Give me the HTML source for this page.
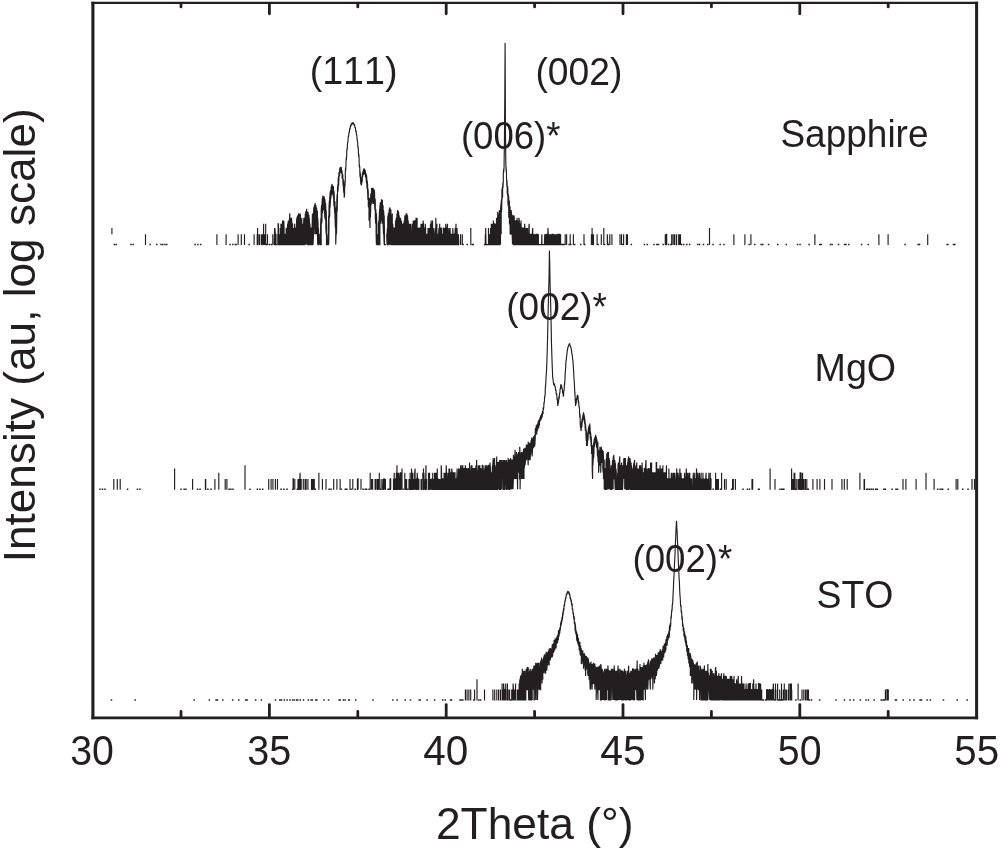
<!DOCTYPE html>
<html lang="en"><head><meta charset="utf-8"><title>XRD 2Theta scans</title>
<style>html,body{margin:0;padding:0;background:#fff}svg{display:block}text{font-family:"Liberation Sans",sans-serif;fill:#231f20;font-kerning:none}.c{fill:none;stroke:#231f20;stroke-width:1.15;stroke-linejoin:miter;stroke-miterlimit:2;stroke-linecap:butt}.d{fill:none;stroke:#231f20;stroke-width:1.5;stroke-linecap:butt}.f{fill:none;stroke:#231f20;stroke-linecap:butt}.t{fill:none;stroke:#231f20;stroke-width:2.8;stroke-linecap:round}</style></head><body>
<svg width="1000" height="850" viewBox="0 0 1000 850">
<rect width="1000" height="850" fill="#fff"/>
<g id="sapphire">
<path class="c" d="M111.9 234.2V228.1M145.5 245.1V234.2M216.9 245.1V234.2M226.1 245.1V234.2M238.1 245.1V234.2M241.3 245.1V234.2M244.5 245.1V234.2M254.1 245.1V234.2M257.2 234.2V244.6H257.6V228.1M258.7 244.6H259V234.2M259.7 245.1V234.2M261.1 244.6H261.5V234.2L261.8 244.6H262.2L262.5 234.2V244.6M263.6 245.1V223.8M264.7 245.1V234.2M265.4 244.6H265.7V223.8M267.5 245.1V234.2M272.8 234.2V244.6H273.2M273.9 244.6H274.2L274.6 228.1V244.6H274.9V228.1L275.3 234.2V244.6H275.6V234.2H276V244.6H277M277.8 234.2V244.6H278.1V223.8H278.5V244.6H278.8V234.2L279.2 244.6H279.5V234.2L279.9 244.6H280.2V228.1L280.6 234.2V244.6H280.9V223.8L281.3 234.2V244.6H281.6V228.1L282 223.8V244.6H282.3V223.8L282.7 220.5V244.6H283.1V223.8L283.4 234.2V244.6H283.8V220.5L284.1 228.1V244.6H284.5V234.2H284.8V244.6H285.2L285.5 234.2V244.6H285.9L286.2 228.1V244.6H286.6V234.2H286.9V244.6H287.3V228.1L287.7 223.8V244.6H288V223.8L288.4 220.5V244.6H288.7V223.8L289.1 220.5V244.6H289.4V220.5L289.8 213.4V244.6H290.1V220.5L290.5 217.8V244.6H290.8V223.8L291.2 220.5V244.6H291.5V217.8L291.9 223.8V244.6H292.3V223.8H292.6V244.6H293V228.1L293.3 234.2V244.6H293.7L294 228.1V244.6H294.4V234.2L294.7 223.8V244.6H295.1V228.1H295.4V244.6H295.8V234.2L296.1 228.1V244.6H296.5V223.8L296.8 217.8V244.6H297.2V217.8L297.6 215.4V244.6H297.9V220.5L298.3 215.4V244.6H298.6V213.4L299 215.4V244.6H299.3V215.4L299.7 220.5V244.6H300V213.4L300.4 215.4V244.6H300.7V220.5H301.1V244.6H301.4V228.1L301.8 217.8V244.6H302.2V234.2L302.5 223.8V244.6H302.9V234.2L303.2 223.8V244.6H303.6V223.8L303.9 217.8V244.6H304.3V217.8L304.6 220.5V244.6H305V223.8L305.3 213.4V244.6L305.7 234.2V211.7H306V234.2L306.4 244.6V213.4L306.7 208.7V234.2H307.1V213.4L307.5 211.7V244.6H307.8V211.7L308.2 213.4V244.6H308.5V215.4H308.9V244.6H309.2V217.8L309.6 223.8V244.6H309.9V223.8L310.3 234.2V244.6H310.6V228.1L311 234.2V244.6H311.3V228.1H311.7V244.6H312.1V228.1L312.4 213.4V244.6H312.8V215.4L313.1 217.8V244.6L313.5 234.2V213.4L313.8 207.4V228.1H314.2V208.7L314.5 205.1V220.5L314.9 234.2V205.1L315.2 203.1V223.8L315.6 220.5V206.2L315.9 205.1V234.2L316.3 228.1V211.7L316.6 207.4V228.1L317 234.2V210.1L317.4 211.7V234.2L317.7 244.6V217.8L318.1 223.8V244.6H318.4V228.1L318.8 244.6M319.5 244.6H319.8V234.2H320.2V244.6H320.5V228.1L320.9 217.8V244.6H321.2V210.1L321.6 205.1V223.8L322 220.5V204L322.3 198.3V213.4L322.7 211.7V196.4L323 195.8V207.4L323.4 210.1V198.3H323.7V210.1L324.1 208.7V196.4L324.4 198.3V208.7L324.8 217.8V199L325.1 201.3V217.8L325.5 220.5V203.1L325.8 207.4V228.1L326.2 234.2V210.1L326.5 220.5V244.6H326.9V234.2L327.3 244.6H328.3V228.1L328.7 215.4V244.6L329 228.1V207.4L329.4 200.5V217.8L329.7 215.4V198.3L330.1 192.2V207.4L330.4 201.3V190.9L330.8 190.5V199L331.1 195.8V187.6L331.5 186V194.7L331.9 192.7V184L332.2 184.8V194.1L332.6 192.2V186.3L332.9 186V194.1L333.3 196.4V186L333.6 190.1V197L334 206.2V191.3L334.3 195.8V205.1L334.7 213.4V201.3L335 202.1V217.8L335.4 228.1V210.1L335.7 207.4V244.6L336.1 234.2V211.7L336.5 206.2V234.2L336.8 215.4V199.7L337.2 194.1V211.7L337.5 196.4V187.9L337.9 184.3V191.8L338.2 187.9V178.8L338.6 176.4V185.7L338.9 179.3V172.9L339.3 172.3V176.1L339.6 175.6V170L340 167.6V171.8L340.3 173.2V168.4L340.7 166.9V170.8L341 172.1V168.2L341.4 168V171.3L341.8 173.9V170L342.1 171.4V178L342.5 177.9V173.8L342.8 175.2V180.9L343.2 186.3V178.8L343.5 182.3V189.7L343.9 193.1V185.1L344.2 186.9V197.6L344.6 194.7V186L344.9 180.9V187.2L345.3 179.3V172.5L345.6 167.6V171.2L346 165.9V161.5L346.4 157.1V160.1L346.7 155.2V152.4L347.1 148.1V150.2L347.4 146.8V144.9L347.8 141.2V142.8L348.1 139.8V138L348.5 135.5V137.2L348.8 134.9V133.7L349.2 131.8V132.9L349.5 130.8V129.8L349.9 128.1V129.7L350.2 128.3V126.8L350.6 125.5V126.9L350.9 125.9V124.8L351.3 124V124.8L351.7 124.4V123.5L352 122.9V124L352.4 123.6V122.8L352.7 122.7V123.6H353.1V122.9L353.4 123V124.1L353.8 124.3V123.4L354.1 124V125L354.5 125.9V124.9L354.8 125.7V126.9L355.2 128.2V127L355.5 128.5V129.5L355.9 132V130.3L356.3 131.6V133.2L356.6 135.4V134.3L357 136.7V138.1L357.3 141V139.5L357.7 142.8V144.3L358 148.1V146.4L358.4 149.8V152.7L358.7 157.1V153.6L359.1 158.1V162.2L359.4 167.5V164.5L359.8 167.9V172.4L360.1 177.5V171.9L360.5 175.5V180.5L360.8 184V177.3L361.2 179.7V185.4L361.6 184.3V178L361.9 176.7V182.5L362.3 180.9V174.4L362.6 172.5V176.8L363 175V171.7L363.3 170V173.8L363.7 173.9V169.1L364 168.4V173L364.4 172.6V168.6L364.7 169.6V173.5L365.1 174.2V170.2L365.4 171.6V175.9L365.8 177.5V173.2L366.2 174.3V179.1L366.5 183.5V175L366.9 179.7V186.3L367.2 189.3V180.5L367.6 184.8V191.3L367.9 199.7V188.2L368.3 191.8V206.2L368.6 207.4V198.3H369V220.5L369.3 215.4V206.2L369.7 202.1V220.5L370 228.1V199.7L370.4 197.6V217.8L370.7 210.1V194.1H371.1V205.1L371.5 200.5V188.6L371.8 187.9V202.1L372.2 199V190.1L372.5 187.9V197.6L372.9 204V187.9L373.2 188.6V198.3L373.6 199V189.3L373.9 189.7V204L374.3 199V190.1L374.6 192.7V205.1L375 210.1V198.3L375.3 201.3V217.8L375.7 223.8V208.7L376.1 213.4V234.2L376.4 244.6V213.4L376.8 223.8V244.6H377.1V234.2L377.5 244.6H377.8L378.2 234.2V244.6H378.5V223.8L378.9 220.5V244.6L379.2 234.2V217.8L379.6 208.7V244.6H379.9V207.4L380.3 203.1V223.8L380.7 217.8V202.1L381 204V220.5L381.4 217.8V199.7H381.7V217.8L382.1 223.8V200.5H382.4V213.4L382.8 220.5V205.1L383.1 206.2V223.8L383.5 234.2V210.1L383.8 213.4V234.2L384.2 244.6V215.4L384.5 234.2V244.6H386M386.7 234.2L387 244.6V234.2L387.4 228.1V244.6H387.7V217.8L388.1 215.4V244.6H388.4V213.4H388.8V244.6H389.1V210.1L389.5 208.7V244.6L389.8 228.1V207.4L390.2 210.1V234.2L390.6 244.6V210.1H390.9V244.6H391.3V215.4H391.6V244.6H392V223.8L392.3 213.4V244.6H392.7V223.8L393 228.1V244.6H393.4V228.1H393.7V244.6H394.1V234.2L394.4 244.6H394.8V228.1H395.1V244.6H395.5V220.5L395.9 223.8V244.6H396.2V217.8L396.6 228.1V244.6H396.9V213.4L397.3 217.8V244.6H397.6V210.1L398 211.7V244.6L398.3 234.2V211.7L398.7 213.4V244.6H399V215.4L399.4 217.8V244.6H399.7V217.8L400.1 220.5V244.6H400.5V217.8L400.8 228.1V244.6H401.2V223.8L401.5 220.5V244.6H401.9V228.1L402.2 223.8V244.6H402.6V228.1L402.9 234.2V244.6H403.3V223.8H403.6V244.6H404V223.8L404.3 220.5V244.6H404.7V217.8L405 215.4V244.6H405.4V217.8L405.8 215.4V244.6H406.1V213.4L406.5 215.4V244.6H406.8V213.4L407.2 220.5V244.6H407.5V215.4L407.9 223.8V244.6H408.2V220.5L408.6 228.1V244.6H408.9V228.1L409.3 223.8V244.6H409.6V223.8L410 234.2V244.6H410.4V223.8L410.7 234.2V244.6H411.1V234.2H411.4V244.6H411.8V228.1L412.1 223.8V244.6H412.5V223.8L412.8 228.1V244.6H413.2V220.5L413.5 223.8V244.6H413.9V220.5L414.2 228.1V244.6H414.6V220.5L414.9 223.8V244.6H415.3V220.5H415.7V244.6H416V217.8L416.4 228.1V244.6H416.7V228.1L417.1 217.8V244.6H417.4V228.1L417.8 234.2V244.6H418.1V228.1L418.5 234.2V244.6H418.8V228.1H419.2V244.6H419.5V228.1L419.9 234.2V244.6H420.3V228.1H420.6V244.6H421V223.8L421.3 228.1V244.6H421.7V228.1L422 223.8V244.6H422.4V228.1L422.7 223.8V244.6H423.1V220.5L423.4 223.8V244.6H423.8V228.1H424.1V244.6H424.5V228.1H424.9V244.6H425.2V223.8L425.6 228.1V244.6H425.9V234.2H426.3V244.6H426.6V234.2H427V244.6H427.3V234.2H427.7V244.6H428V228.1L428.4 234.2V244.6H428.7V228.1L429.1 234.2V244.6H429.4V234.2L429.8 228.1V244.6H430.2V234.2L430.5 223.8V244.6H430.9V228.1L431.2 220.5V244.6H431.6V223.8H431.9V244.6H432.3V234.2L432.6 220.5V244.6H433V228.1L433.3 244.6H433.7V228.1L434 234.2V244.6H434.4V234.2H434.8V244.6H435.1V234.2L435.5 228.1V244.6H435.8V217.8L436.2 234.2V244.6H436.5L436.9 223.8V244.6H437.2V234.2H437.6V244.6H437.9V234.2H438.3V244.6H438.6V234.2L439 228.1V244.6H439.3V234.2L439.7 223.8V244.6H440.1V234.2L440.4 228.1V244.6H440.8V228.1H441.1V244.6H441.5V234.2L441.8 228.1V244.6H442.2V234.2H442.5V244.6H442.9V234.2H443.2V244.6H443.6V228.1H443.9V244.6H444.3V234.2H444.7V244.6H445V228.1L445.4 234.2V244.6H445.7V223.8L446.1 234.2V244.6H446.4V228.1H446.8V244.6H447.1V228.1L447.5 223.8V244.6H447.8V228.1L448.2 234.2V244.6H448.5V234.2H448.9V244.6H449.2V228.1L449.6 234.2V244.6H450V228.1L450.3 234.2V244.6H450.7V234.2H451V244.6H451.4V234.2H451.7V244.6H452.1V234.2H452.4V244.6H452.8V228.1L453.1 234.2V244.6H453.5V234.2H453.8V244.6H454.2L454.6 234.2V244.6H454.9V234.2L455.3 228.1V244.6H455.6V234.2L456 223.8V244.6H456.3V228.1L456.7 234.2V244.6H457V228.1L457.4 244.6H457.7L458.1 234.2V244.6H458.4V234.2L458.8 244.6H459.1M460.6 245.1V234.2M462.3 245.1V234.2M470.8 228.1V244.6H471.2M485.3 234.2V244.6H485.7V228.1L486 244.6H488.5V228.1L488.9 244.6H489.2L489.6 234.2L489.9 244.6L490.3 234.2V244.6H490.6V228.1L491 234.2V244.6H491.3V223.8L491.7 234.2V244.6H492V223.8L492.4 228.1V244.6H492.7V228.1L493.1 223.8V244.6H493.4V220.5L493.8 228.1V244.6H494.2V223.8H494.5V244.6H494.9V228.1L495.2 223.8V244.6H495.6V223.8L495.9 234.2V244.6H496.3V228.1L496.6 217.8V244.6H497V220.5H497.3V234.2L497.7 244.6V211.7L498 215.4V244.6H498.4V217.8L498.8 215.4V234.2L499.1 244.6V215.4L499.5 210.1V244.6H499.8V217.8L500.2 211.7V234.2L500.5 244.6V210.1L500.9 204V223.8L501.2 234.2V202.1L501.6 199V211.7L501.9 199.7V190.1L502.3 187.6V198.3L502.6 196.4V187.2L503 182.1V187.9L503.3 180.5V174L503.7 168.7V172.7L504.1 166.5V163.1L504.4 144.1V147L504.8 95.1V94.6L505.1 43.1L505.5 136.9V135.9L505.8 160.5V162.9L506.2 171.3V167.9L506.5 174V177.9L506.9 186.6V180.1L507.2 186.6V192.7L507.6 195.2V186L507.9 190.9V202.1L508.3 206.2V194.7L508.7 197V217.8L509 211.7V200.5L509.4 201.3V223.8H509.7V206.2L510.1 207.4V234.2L510.4 228.1V211.7H510.8V234.2H511.1V210.1L511.5 213.4V234.2H511.8V215.4H512.2V234.2L512.5 244.6V217.8L512.9 215.4V234.2H513.3V217.8L513.6 215.4V244.6H514V215.4L514.3 217.8V244.6H514.7V220.5L515 223.8V244.6H515.4V220.5L515.7 228.1V244.6H516.1V220.5H516.4V244.6H516.8V228.1L517.1 217.8V244.6H517.5V228.1L517.8 220.5V244.6H518.2V228.1L518.6 223.8V244.6H518.9V217.8L519.3 220.5V244.6H519.6V223.8H520V244.6H520.3V228.1H520.7V244.6H521V220.5L521.4 234.2V244.6H521.7V228.1H522.1V244.6H522.4V228.1H522.8V244.6H523.2V228.1H523.5V244.6H523.9V234.2H524.2V244.6H524.6V223.8L524.9 228.1V244.6H525.3L525.6 234.2V244.6H526V228.1L526.3 234.2V244.6H526.7V228.1L527 234.2V244.6H527.4V228.1L527.7 234.2V244.6H528.1V234.2H528.5V244.6H528.8V228.1L529.2 223.8V244.6H529.5V234.2H529.9V244.6H530.2L530.6 234.2V244.6H530.9V234.2H531.3V244.6H531.6V234.2L532 244.6H532.3V234.2L532.7 228.1V244.6H533.1V234.2H533.4V244.6H533.8L534.1 234.2V244.6H534.5V234.2L534.8 244.6H535.2L535.5 234.2V244.6H535.9V234.2H536.2V244.6H536.6V234.2H536.9V244.6H537.3V234.2H537.6V244.6H538L538.4 234.2V244.6H541.5L541.9 234.2V244.6H544.4L544.7 234.2V244.6H545.1V234.2L545.4 244.6H545.8L546.1 234.2V244.6H546.5V234.2H546.8V244.6H547.9V228.1L548.3 234.2V244.6H548.6L549 234.2V244.6H549.3L549.7 234.2V244.6H550L550.4 234.2V244.6H550.7L551.1 234.2V244.6H551.4L551.8 234.2V244.6H552.1V234.2H552.5V244.6H552.9V234.2H553.2V244.6H554.3V234.2L554.6 244.6H555V234.2L555.3 244.6H555.7V234.2L556 244.6H556.4V234.2L556.7 244.6H557.1L557.5 234.2V244.6H557.8V234.2H558.2V244.6H559.2V234.2H559.6V244.6H559.9V234.2L560.3 244.6H560.6V234.2M565.2 245.1V234.2M566.6 245.1V234.2M570.2 245.1V234.2M573.4 234.2V244.6H573.7M584 245.1V234.2M591.4 245.1V234.2M592.1 245.1V228.1M593.2 234.2V244.6H593.5V234.2M597.1 234.2V244.6H597.4M601.3 245.1V234.2M603.8 245.1V228.1M607 244.6H607.3V234.2L607.7 244.6M609.8 245.1V234.2M611.9 245.1V234.2M620 245.1V234.2M621.5 245.1V234.2M623.6 245.1V234.2M626.4 245.1V234.2M627.5 245.1V234.2M665.3 245.1V234.2M666 234.2V244.6H666.4V234.2H666.7V244.6M671.7 234.2V244.6H672M673.1 245.1V234.2M674.5 245.1V234.2M676.3 234.2V244.6H676.6V234.2M678.7 245.1V234.2M679.8 245.1V234.2M680.5 245.1V234.2M709.5 245.1V228.1M733.9 245.1V234.2M744.9 234.2V244.6H745.2M750.9 245.1V234.2M814.9 245.1V234.2M878.9 245.1V234.2M888.1 245.1V234.2M927.7 245.1V234.2"/>
<path class="d" d="M113.6 244.6h1.5M115.4 244.6h1.5M130.3 244.6h1.5M132.4 244.6h1.5M149.4 244.6h1.5M156.1 244.6h1.5M160.3 244.6h1.5M162.1 244.6h1.5M164.2 244.6h1.5M166 244.6h1.5M194.3 244.6h1.5M197.1 244.6h1.5M199.9 244.6h1.5M229.3 244.6h1.5M232.1 244.6h1.5M234.6 244.6h1.5M235.3 244.6h1.5M248.4 244.6h1.5M266 244.6h1.5M268.5 244.6h1.5M270.5 244.6h1.5M462.3 244.6h1.5M466.5 244.6h1.5M471.5 244.6h1.5M472.5 244.6h1.5M483.9 244.6h1.5M560.9 244.6h1.5M562 244.6h1.5M563.4 244.6h1.5M568.4 244.6h1.5M570.1 244.6h1.5M573.9 244.6h1.5M580 244.6h1.5M583.9 244.6h1.5M597.4 244.6h1.5M603.7 244.6h1.5M607.8 244.6h1.5M622.1 244.6h1.5M630.6 244.6h1.5M643.7 244.6h1.5M646.5 244.6h1.5M653.2 244.6h1.5M656.1 244.6h1.5M657.1 244.6h1.5M657.8 244.6h1.5M662.4 244.6h1.5M667.9 244.6h1.5M670.2 244.6h1.5M680.8 244.6h1.5M682.9 244.6h1.5M686.1 244.6h1.5M688.9 244.6h1.5M696.9 244.6h1.5M698.8 244.6h1.5M702.7 244.6h1.5M707 244.6h1.5M712.3 244.6h1.5M719.4 244.6h1.5M723.2 244.6h1.5M748.4 244.6h1.5M754 244.6h1.5M760.4 244.6h1.5M762 244.6h1.5M767.8 244.6h1.5M777 244.6h1.5M785.5 244.6h1.5M796.8 244.6h1.5M799.3 244.6h1.5M808.3 244.6h1.5M819.1 244.6h1.5M820.5 244.6h1.5M829.7 244.6h1.5M831.4 244.6h1.5M837.8 244.6h1.5M843.8 244.6h1.5M845.2 244.6h1.5M848.1 244.6h1.5M860.8 244.6h1.5M867.5 244.6h1.5M904.3 244.6h1.5M917.4 244.6h1.5M918.8 244.6h1.5M946.4 244.6h1.5M947.1 244.6h1.5M952.7 244.6h1.5M954.1 244.6h1.5"/>
</g>
<g id="mgo">
<path class="c" d="M113.8 489.8V478.9M117.3 489.8V478.9M120.2 489.8V478.9M174.6 489.8V468.5M192.6 489.8V478.9M205.4 478.9V489.3H205.7V478.9M214.9 489.8V478.9M218.8 489.8V472.8M225.2 489.8V478.9M226.9 489.8V478.9M245 489.8V465.2M268.7 489.8V478.9M271.1 489.8V478.9M272.9 489.8V478.9M275.4 489.8V478.9M277.5 489.8V478.9M292 489.3H293.1V478.9H293.4V489.3H293.8M294.8 489.8V478.9M298 489.8V478.9M298.7 489.8V478.9M299.4 478.9V489.3H299.8V478.9L300.1 472.8V489.3H300.5V478.9M301.2 489.8V478.9M303.3 489.8V478.9M305.1 478.9V489.3H305.4V478.9M306.1 489.8V478.9M307.6 489.3H307.9V478.9M311.1 489.3H311.5V478.9M312.2 478.9V489.3H312.5V478.9M313.2 489.8V478.9M314.3 489.8V478.9M318.9 489.8V472.8M322.4 489.8V478.9M326 489.8V478.9M333.7 489.8V478.9M336.9 489.8V478.9M340.1 489.8V478.9M349.6 489.3H350V478.9M352.8 489.8V478.9M357.4 478.9V489.3H357.8V478.9H358.1V489.3M361 478.9V489.3H361.3M370.2 489.8V472.8M371.6 489.8V478.9M372.6 489.8V478.9M374.7 489.3H375.1V478.9M375.8 489.8V478.9M376.9 489.3H377.2V478.9M378.3 489.8V478.9M379.3 472.8V489.3H379.7M381.1 489.8V478.9M382.2 489.3H382.5L382.9 478.9V489.3H383.9V478.9H384.3V489.3M385 489.3H385.4V478.9M390 478.9V489.3H390.3V478.9H390.7V489.3H391M393.5 478.9V489.3H393.8L394.2 472.8V489.3H394.5L394.9 478.9V489.3H395.3V478.9H395.6V489.3M396.3 472.8V489.3H396.7V478.9L397 465.2V489.3M397.7 478.9V489.3H398.1V472.8M398.8 489.3H399.1V472.8L399.5 478.9V489.3H399.9V478.9H400.2V489.3H400.6V472.8H400.9V489.3M402 489.8V468.5M404.4 489.3H404.8V472.8M405.5 489.8V478.9M406.2 478.9V489.3H406.6V478.9M409 489.8V478.9M409.8 478.9V489.3H410.1V472.8M411.2 478.9V489.3H411.5V468.5L411.9 478.9V489.3H412.2V472.8L412.6 478.9V489.3H412.9V472.8M413.6 489.8V478.9M414.4 489.3H414.7V472.8L415.1 468.5V489.3M416.1 478.9V489.3H416.5V478.9H416.8V489.3H417.2V472.8L417.5 478.9V489.3H417.9V478.9H418.2V489.3M418.9 489.8V478.9M421.1 478.9V489.3H421.4V478.9M422.8 489.8V472.8M423.5 468.5V489.3H423.9V472.8L424.3 489.3M425.3 478.9V489.3H425.7V478.9L426 465.2V489.3M426.7 489.8V478.9M428.5 472.8V489.3H428.8L429.2 472.8V489.3H429.6V472.8M430.3 489.8V478.9M431 489.8V478.9M431.7 489.3H432V478.9H432.4V489.3H432.7V472.8M433.4 478.9V489.3H433.8V478.9M434.5 489.8V472.8M435.2 478.9V489.3H435.6V472.8M436.6 472.8V489.3H437L437.3 468.5V489.3H437.7V478.9H438V489.3H438.4L438.7 478.9V489.3H439.1V478.9L439.5 489.3H439.8V478.9L440.2 489.3H440.5L440.9 478.9V489.3H441.2V465.2L441.6 472.8V489.3H441.9V478.9H442.3V489.3H442.6V478.9H443V489.3H443.3V478.9L443.7 489.3H444.1V472.8L444.4 489.3H444.8L445.1 472.8V489.3H445.5V478.9H445.8V489.3H446.2V465.2L446.5 472.8V489.3H446.9V472.8L447.2 478.9V489.3H447.6V478.9L447.9 489.3H448.3V472.8L448.6 478.9V489.3H449V468.5L449.4 472.8V489.3H449.7V468.5L450.1 478.9V489.3H450.4V478.9L450.8 472.8V489.3H451.1V472.8H451.5V489.3H451.8V468.5L452.2 472.8V489.3H452.5V472.8L452.9 478.9V489.3H453.2V472.8H453.6V478.9L454 489.3V478.9H454.3V489.3H454.7V472.8H455V489.3H455.4V478.9H455.7V489.3H456.1V478.9H456.4V489.3H456.8V478.9L457.1 468.5V478.9L457.5 489.3V478.9H457.8V489.3H458.2V478.9L458.6 468.5V489.3H458.9V468.5L459.3 478.9V489.3H459.6V468.5L460 472.8V489.3H460.3V472.8L460.7 465.2V489.3H461V472.8L461.4 468.5V489.3H461.7V472.8L462.1 465.2V489.3H462.4V472.8L462.8 465.2V489.3H463.1V478.9H463.5V489.3H463.9V468.5H464.2V489.3H464.6V472.8H464.9V489.3H465.3V465.2L465.6 468.5V489.3H466V468.5H466.3V489.3H466.7V472.8L467 468.5V489.3H467.4V472.8L467.7 468.5V489.3H468.1V468.5H468.5V489.3H468.8V468.5H469.2V489.3H469.5V462.5L469.9 472.8V489.3H470.2V472.8H470.6V489.3H470.9V472.8L471.3 465.2V489.3H471.6V472.8L472 465.2V489.3H472.3V468.5H472.7V489.3H473V472.8H473.4V489.3H473.8V468.5H474.1V489.3H474.5V472.8H474.8V489.3H475.2V468.5H475.5V489.3H475.9V465.2L476.2 472.8V489.3H476.6V460.1L476.9 472.8V489.3H477.3V472.8H477.6V489.3H478V472.8L478.4 465.2V489.3H478.7V468.5L479.1 465.2V489.3H479.4V468.5L479.8 465.2V489.3H480.1V468.5H480.5V489.3H480.8V472.8H481.2V489.3H481.5V468.5L481.9 472.8V489.3H482.2V465.2H482.6V489.3H482.9V465.2L483.3 468.5V489.3H483.7V478.9L484 472.8V489.3H484.4V472.8L484.7 468.5V489.3H485.1V465.2L485.4 472.8V489.3H485.8V468.5L486.1 465.2V489.3H486.5V468.5H486.8V489.3H487.2V465.2L487.5 468.5V489.3H487.9V478.9L488.3 472.8V489.3H488.6V465.2H489V489.3H489.3V468.5L489.7 465.2V489.3H490V462.5L490.4 468.5V489.3H490.7V478.9L491.1 472.8V489.3H491.4V472.8H491.8V489.3H492.1V472.8L492.5 465.2V489.3H492.8V465.2L493.2 458.1V489.3H493.6V472.8L493.9 460.1V489.3H494.3V468.5L494.6 458.1V478.9L495 489.3V472.8L495.3 468.5V489.3H495.7V468.5L496 465.2V489.3H496.4V468.5L496.7 456.4V489.3H497.1V462.5H497.4V489.3H497.8V462.5H498.2V489.3L498.5 478.9V465.2H498.9V489.3L499.2 478.9V462.5L499.6 460.1V489.3H499.9V468.5L500.3 460.1V489.3H500.6V472.8L501 465.2V489.3L501.3 478.9V460.1L501.7 462.5V489.3L502 472.8V465.2L502.4 462.5V478.9L502.8 472.8V460.1L503.1 465.2V489.3H503.5V468.5L503.8 460.1V472.8L504.2 489.3V465.2L504.5 468.5V489.3H504.9V460.1L505.2 462.5V489.3L505.6 478.9V468.5H505.9V472.8L506.3 478.9V460.1L506.6 462.5V489.3H507V465.2L507.3 462.5V472.8L507.7 489.3V465.2L508.1 458.1V478.9H508.4V460.1H508.8V489.3H509.1V460.1H509.5V489.3H509.8V460.1L510.2 462.5V489.3L510.5 478.9V458.1L510.9 462.5V478.9L511.2 489.3V460.1L511.6 462.5V478.9L511.9 489.3V460.1H512.3V478.9H512.7V465.2L513 462.5V489.3L513.4 478.9V454.8L513.7 460.1V478.9L514.1 472.8V456.4L514.4 462.5V472.8L514.8 478.9V456.4L515.1 449.8V468.5L515.5 478.9V458.1H515.8V472.8H516.2V458.1L516.5 452.1V478.9L516.9 465.2V456.4H517.2V472.8L517.6 489.3V456.4L518 453.4V468.5L518.3 472.8V456.4L518.7 452.1V465.2L519 472.8V452.1L519.4 460.1V478.9H519.7V446.8L520.1 453.4V489.3L520.4 468.5V453.4L520.8 460.1V465.2H521.1V458.1L521.5 452.1V478.9L521.8 460.1V453.4L522.2 454.8V468.5L522.6 478.9V453.4L522.9 452.1V462.5L523.3 478.9V452.1L523.6 448.7V468.5L524 478.9V450.9L524.3 452.1V468.5L524.7 462.5V447.8L525 449.8V465.2L525.4 462.5V447.8L525.7 448.7V458.1L526.1 460.1V452.1L526.4 444.4V460.1L526.8 458.1V446.8L527.1 448.7V456.4L527.5 454.8V444.4L527.9 448.7V460.1L528.2 465.2V441.7L528.6 444.4V454.8L528.9 456.4V443.7L529.3 447.8V460.1L529.6 458.1V443L530 446V460.1L530.3 458.1V443.7L530.7 443V454.8L531 450.9V441.1L531.4 439.9V452.1L531.7 450.9V437.4L532.1 441.1V456.4L532.5 449.8V439.9L532.8 438.8V448.7L533.2 444.4V438.3L533.5 437.4V447.8L533.9 445.2V436L534.2 436.5V442.3L534.6 446.8V434.8L534.9 435.2V445.2L535.3 436V429.8L535.6 428.2V432.9L536 434V428.7L536.3 425.4V434.4L536.7 434V428.7L537 424.4V431.6L537.4 430.1V425.4L537.8 423.5V429.5L538.1 427.7V421.9L538.5 421.4V428L538.8 427.5V419.7L539.2 422.4V424.8L539.5 425.6V420.5L539.9 418.3V421.4L540.2 420.2V417.3L540.6 416.5V420.5L540.9 419.3V414.9L541.3 415.9V419.1L541.6 417.9V414L542 413.8V417.3L542.4 414.9V411.7L542.7 411.2V413.6L543.1 413.9V408.6L543.4 407.3V409.8L543.8 406.9V405.6L544.1 402V403.7L544.5 400.5V397.6L544.8 396V397.5L545.2 393.4V390.4L545.5 385.4V387.1L545.9 381.5V380.6L546.2 374.7V375.7L546.6 369.6V369L547 358.7V359L547.3 348.3V348.1L547.7 333.2V333.4L548 316.9V316.8L548.4 301.2V301.3L548.7 290.1V290L549.1 274.6H549.1L549.4 250.5L549.8 266.2H549.8L550.1 285.4V285.3L550.5 296.5V296.6L550.8 310.2V310.1L551.2 327.3V327.5L551.5 344.8V344.5L551.9 356.4V356.9L552.3 367.9V367.2L552.6 375.5V376.5L553 379.6V378.7L553.3 381.2V382.2L553.7 384.6V383.4L554 383.8V384.9L554.4 385.8V384.1L554.7 384.8V385.5L555.1 387.1V386L555.4 387.9V388.8L555.8 391V389.7L556.1 390.9V392.9L556.5 394.9V393L556.9 395.8V398.1L557.2 400.2V398.4L557.6 401.2V404L557.9 405.9V403.2L558.3 401.3V403.6L558.6 401.3V400L559 396.4V399.3L559.3 397.1V395.2L559.7 392.6V393.8L560 391.8V390.1L560.4 387.5V389.3L560.7 386.6V385.3L561.1 384.2V385.7L561.4 386.7V385.3L561.8 386.6V388.5L562.2 389.1V388.3L562.5 390V391.7L562.9 393.7V392.6L563.2 393.9V396.6L563.6 395.6V393.6L563.9 390.4V391.3L564.3 388.2V386.7L564.6 382.9V384.6L565 378.7V377.1L565.3 371.2V372.8L565.7 366.8V366L566 360.5V361.3L566.4 358.3V357.5L566.8 355.1V355.4L567.1 352.5V352.2L567.5 349.3V349.7L567.8 348.1V347.5L568.2 346.7V347L568.5 346.2V345.6L568.9 345V345.3L569.2 344.3V344L569.6 343.8V344.2L569.9 345.2V345L570.3 345.8V346.2L570.6 347V346.6L571 347.5V347.9L571.3 349.5V349L571.7 351.8V352.1L572.1 354.9V354.3L572.4 356.9V357.3L572.8 360V359.2L573.1 362.9V363.4L573.5 369.5V368.6L573.8 374.5V375.5L574.2 380.9V380.2L574.5 386V387.4L574.9 394.1V391.8L575.2 398.3V399.4L575.6 406V403.8L575.9 401.4V404.5L576.3 402.4V399.7L576.7 398.4V400.1L577 398.2V397L577.4 394.8V396.6L577.7 397.2V394.8L578.1 397.3V399L578.4 403.2V400L578.8 403.1V404.8L579.1 407.5V405.5L579.5 409V411.7L579.8 417.8V413.2L580.2 416.6V423.1L580.5 427.7V423.6L580.9 425.6V430.7L581.2 430.4V423.1L581.6 422V428L582 424.4V419.4L582.3 418.7V422.4L582.7 420.2V417.7L583 414.6V419.6L583.4 416.3V412.3L583.7 413.3V416.3L584.1 419.9V414.5L584.4 416.8V421.1L584.8 424.2V418.2L585.1 422.7V427.2L585.5 431V423.6L585.8 428V429.8L586.2 441.1V429.8L586.6 436V446L586.9 444.4V437.8L587.3 438.8V446L587.6 440.5V434.4L588 431.6V440.5L588.3 432.9V429L588.7 427V433.3L589 433.7V426.3L589.4 425.2V429.3L589.7 433.3V423.6L590.1 428V434.4L590.4 439.4V431.9L590.8 434V439.9L591.2 446.8V436.5L591.5 441.7V453.4H591.9V445.2L592.2 446.8V468.5L592.6 478.9V447.8L592.9 452.1V465.2L593.3 458.1V446L593.6 443V458.1L594 452.1V441.7L594.3 438.8V446.8L594.7 444.4V437.8H595V444.4L595.4 441.7V436L595.7 434.8V441.1L596.1 440.5V436.5L596.5 438.3V447.8L596.8 444.4V439.4L597.2 441.7V447.8L597.5 456.4V443.7L597.9 442.3V456.4L598.2 462.5V449.8L598.6 452.1V472.8L598.9 468.5V456.4L599.3 452.1V465.2H599.6V452.1L600 446.8V458.1L600.3 462.5V454.8L600.7 448.7V472.8L601.1 460.1V449.8L601.4 446.8V460.1H601.8V452.1H602.1V462.5H602.5V449.8L602.8 456.4V468.5L603.2 472.8V450.9L603.5 458.1V478.9L603.9 472.8V460.1H604.2V489.3L604.6 478.9V468.5L604.9 478.9V489.3H605.3V468.5H605.6V489.3L606 478.9V462.5L606.4 458.1V489.3H606.7V453.4L607.1 454.8V468.5H607.4V453.4L607.8 452.1V489.3L608.1 472.8V454.8L608.5 452.1V472.8L608.8 489.3V460.1L609.2 458.1V468.5L609.5 489.3V460.1L609.9 468.5V489.3L610.2 478.9V468.5L610.6 472.8V489.3H611V472.8L611.3 465.2V489.3H611.7V468.5H612V478.9L612.4 489.3V462.5L612.7 460.1V478.9L613.1 489.3V460.1L613.4 456.4V478.9H613.8V454.8L614.1 462.5V472.8L614.5 478.9V462.5L614.8 460.1V478.9L615.2 489.3V462.5L615.5 465.2V489.3H615.9V468.5L616.3 472.8V489.3H616.6V478.9H617V489.3H617.3V478.9L617.7 472.8V478.9L618 489.3V465.2L618.4 462.5V489.3H618.7V468.5L619.1 462.5V489.3L619.4 472.8V460.1L619.8 456.4V489.3H620.1V465.2H620.5V489.3H620.9V465.2L621.2 472.8V489.3H621.6V462.5L621.9 468.5V489.3H622.3V468.5H622.6V489.3L623 478.9V465.2L623.3 468.5V472.8L623.7 478.9V460.1L624 458.1V478.9L624.4 472.8V462.5L624.7 458.1V489.3L625.1 478.9V465.2L625.4 458.1V489.3L625.8 478.9V468.5L626.2 465.2V489.3H626.5V468.5L626.9 472.8V489.3H627.2V468.5L627.6 462.5V489.3L627.9 478.9V462.5L628.3 458.1V489.3H628.6V456.4L629 462.5V489.3L629.3 478.9V465.2L629.7 472.8V489.3L630 478.9V458.1L630.4 462.5V489.3H630.8V468.5L631.1 462.5V489.3H631.5V465.2L631.8 468.5V489.3L632.2 478.9V468.5L632.5 472.8V489.3H632.9V472.8L633.2 468.5V489.3H633.6V465.2L633.9 462.5V489.3H634.3V465.2L634.6 460.1V489.3H635V468.5H635.4V489.3H635.7V468.5L636.1 465.2V489.3H636.4V468.5L636.8 462.5V489.3H637.1V472.8L637.5 468.5V489.3H637.8V468.5L638.2 472.8V489.3H638.5V472.8L638.9 468.5V489.3H639.2V472.8L639.6 465.2V489.3H639.9V468.5L640.3 465.2V489.3H640.7V465.2L641 472.8V489.3H641.4V468.5L641.7 472.8V489.3H642.1V462.5L642.4 472.8V489.3H642.8V472.8H643.1V489.3H643.5V472.8H643.8V489.3H644.2V468.5H644.5V489.3H644.9V472.8L645.3 468.5V489.3H645.6V465.2L646 460.1V489.3H646.3V472.8L646.7 468.5V489.3H647V468.5L647.4 472.8V489.3H647.7V472.8H648.1V489.3L648.4 478.9V468.5H648.8V489.3H649.1V472.8L649.5 468.5V489.3H649.8V468.5L650.2 472.8V489.3H650.6V462.5L650.9 478.9V489.3H651.3V472.8L651.6 462.5V478.9L652 489.3V472.8H652.3V489.3H652.7V472.8H653V489.3H653.4V472.8H653.7V489.3H654.1V472.8H654.4V489.3H654.8V478.9H655.2V489.3L655.5 478.9V472.8H655.9V489.3H656.2V462.5H656.6V489.3L656.9 472.8L657.3 468.5V489.3H657.6V472.8L658 468.5V489.3H658.3V472.8L658.7 468.5V489.3H659V472.8H659.4V489.3H659.7V478.9L660.1 465.2V489.3H660.5V478.9L660.8 468.5V489.3H661.2V472.8H661.5V489.3H661.9V468.5L662.2 478.9V489.3H662.6L662.9 465.2V489.3H663.3V478.9H663.6V489.3H664V472.8H664.3V489.3H664.7V472.8H665.1V489.3H665.4V472.8H665.8V489.3H666.1V478.9L666.5 465.2V489.3H667.5V478.9H667.9V489.3H668.2V478.9L668.6 489.3H668.9V468.5L669.3 489.3H669.6L670 478.9V489.3H670.4V478.9H670.7V489.3H671.1V478.9L671.4 472.8V489.3H671.8V472.8L672.1 478.9V489.3H672.5V478.9L672.8 489.3H673.2V472.8L673.5 478.9V489.3H673.9V472.8L674.2 478.9V489.3H674.6V472.8L675 478.9V489.3H675.3V478.9L675.7 489.3H676L676.4 472.8V489.3H676.7V468.5L677.1 478.9V489.3H677.4V472.8L677.8 478.9V489.3H678.1V472.8L678.5 478.9V489.3H678.8V478.9H679.2V489.3H679.6V478.9L679.9 468.5V489.3H680.3V478.9L680.6 472.8V489.3L681 478.9V472.8L681.3 478.9V489.3H681.7V478.9L682 489.3H682.4V478.9H682.7V489.3H683.1V478.9H683.4V489.3H683.8L684.1 478.9V489.3H684.5V472.8L684.9 478.9V489.3H685.2V478.9L685.6 489.3L685.9 478.9L686.3 468.5V489.3H686.6L687 472.8V489.3H687.3V478.9L687.7 472.8V489.3H688V478.9L688.4 489.3H688.7V478.9L689.1 472.8V489.3H689.5L689.8 472.8V489.3H690.2V478.9L690.5 489.3H690.9V478.9H691.2V489.3H691.6V478.9L691.9 489.3H693V478.9L693.3 472.8V489.3H693.7V478.9H694V489.3H694.4V478.9L694.8 472.8V489.3H695.1V478.9H695.5V489.3H696.5V468.5L696.9 478.9V489.3H697.2L697.6 478.9V489.3H697.9V472.8L698.3 478.9V489.3H698.6V478.9H699V489.3H699.4V472.8L699.7 478.9V489.3H700.1V478.9H700.4V489.3H700.8L701.1 472.8V489.3H701.5V478.9L701.8 489.3H702.2L702.5 478.9V489.3H702.9V472.8L703.2 489.3H703.6V478.9H703.9V489.3H704.3V478.9L704.7 489.3H705L705.4 478.9V489.3H705.7V478.9L706.1 472.8V489.3H706.4V478.9H706.8V489.3H707.1V478.9L707.5 489.3H707.8L708.2 478.9V489.3H708.5L708.9 472.8V489.3H710L710.3 472.8V489.3H710.7V478.9H711V489.3M715.6 472.8V489.3H716V478.9M717 489.8V478.9M718.1 478.9V489.3H718.4V478.9M721.6 489.8V472.8M724.5 489.8V478.9M726.2 489.8V478.9M732.6 489.8V478.9M733.3 489.8V478.9M735.4 478.9V489.3H735.8M752 489.8V478.9M752.7 489.8V478.9M770.1 489.8V468.5M775 489.8V478.9M791.6 468.5V489.3H792V478.9M793.1 489.8V478.9M793.8 478.9V489.3H794.1V472.8M794.8 489.8V472.8M796.2 478.9V489.3H796.9M798 489.8V478.9M798.7 489.8V478.9M799.8 478.9V489.3H800.1V472.8H800.5V489.3H800.8V478.9M801.5 478.9V489.3H801.9V472.8M802.6 489.8V472.8M803.3 489.3H803.7V478.9M805.1 478.9V489.3H805.4V478.9M806.8 489.8V478.9M812.9 489.8V478.9M817.1 489.8V478.9M819.9 489.8V478.9M824.5 489.8V478.9M832 489.8V478.9M841.9 489.8V478.9M844.3 489.8V478.9M847.2 489.8V478.9M859.9 489.8V472.8M864.1 478.9V489.3H864.5V478.9M903 489.8V478.9M905.9 489.8V478.9M916.1 489.8V478.9M926 489.8V472.8M934.1 489.8V478.9M956.1 489.8V478.9M957.8 489.8V478.9M972 489.8V478.9M974.5 489.8V478.9"/>
<path class="d" d="M99.2 489.3h1.5M101.7 489.3h1.5M104.2 489.3h1.5M126.8 489.3h1.5M136.7 489.3h1.5M139.2 489.3h1.5M180.2 489.3h1.5M183.4 489.3h1.5M185.2 489.3h1.5M196.8 489.3h1.5M199.3 489.3h1.5M207.1 489.3h1.5M210.3 489.3h1.5M228.3 489.3h1.5M230.1 489.3h1.5M232.2 489.3h1.5M249.2 489.3h1.5M256.6 489.3h1.5M259.1 489.3h1.5M261.9 489.3h1.5M280.3 489.3h1.5M283.1 489.3h1.5M286.3 489.3h1.5M296.6 489.3h1.5M314.6 489.3h1.5M328.4 489.3h1.5M330.2 489.3h1.5M340.4 489.3h1.5M344.6 489.3h1.5M346.1 489.3h1.5M350.3 489.3h1.5M354.5 489.3h1.5M362.3 489.3h1.5M364.5 489.3h1.5M365.9 489.3h1.5M368.3 489.3h1.5M379.7 489.3h1.5M387.3 489.3h1.5M388.5 489.3h1.5M402.3 489.3h1.5M407.1 489.3h1.5M712.4 489.3h1.5M719.8 489.3h1.5M730.8 489.3h1.5M742.3 489.3h1.5M746.7 489.3h1.5M748.8 489.3h1.5M757.7 489.3h1.5M758.4 489.3h1.5M779.2 489.3h1.5M781 489.3h1.5M781.7 489.3h1.5M782.4 489.3h1.5M783.1 489.3h1.5M794.8 489.3h1.5M806.8 489.3h1.5M807.5 489.3h1.5M865.9 489.3h1.5M867.3 489.3h1.5M869 489.3h1.5M870.8 489.3h1.5M872.6 489.3h1.5M875 489.3h1.5M875.8 489.3h1.5M876.5 489.3h1.5M883.2 489.3h1.5M884.6 489.3h1.5M891.3 489.3h1.5M895.2 489.3h1.5M896.8 489.3h1.5M936.9 489.3h1.5M939.4 489.3h1.5M941.2 489.3h1.5M941.9 489.3h1.5M947.5 489.3h1.5M962 489.3h1.5M967.3 489.3h1.5"/>
</g>
<g id="sto">
<path class="c" d="M465.4 700.5V689.6M467.1 700.5V689.6M468.9 700.5V689.6M470.7 700.5V689.6M474.6 700.5V689.6M477 700.5V679.2M484.5 700.5V689.6M492.9 700.5V689.6M494.7 700.5V689.6M496.8 700.5V689.6M498.6 700.5V689.6M500.4 700.5V689.6M502.1 683.5V700H502.5V689.6M503.2 700H503.6V683.5L503.9 689.6V700H504.3V689.6H504.6V700M505.7 700.5V683.5M507.1 689.6V700H507.4V683.5M508.2 700.5V689.6M509.2 700H509.6V689.6M511.7 689.6V700H512V689.6M512.8 689.6V700H513.1V683.5L513.5 689.6V700M514.5 689.6V700H514.9V689.6M515.6 700.5V683.5M517.3 700.5V689.6M518.1 700.5V689.6M519.1 683.5V700H519.5V689.6L519.8 679.2V700H520.2V683.5L520.5 675.9V700H520.9V675.9H521.2V700H521.6V683.5L521.9 673.2V700H522.3V668.8L522.7 675.9V700H523V679.2L523.4 675.9V700L523.7 689.6V670.8L524.1 673.2V700H524.4V673.2L524.8 670.8V689.6H525.1V675.9L525.5 679.2V700H525.8V679.2L526.2 668.8V689.6H526.5V670.8L526.9 673.2V689.6H527.2V667.1L527.6 673.2V689.6H528V667.1L528.3 668.8V683.5L528.7 700V673.2L529 679.2V700H529.4V673.2L529.7 670.8V700H530.1V668.8L530.4 670.8V689.6L530.8 700V673.2L531.1 675.9V700H531.5V670.8L531.8 673.2V689.6L532.2 700V668.8L532.6 670.8V689.6L532.9 683.5V670.8L533.3 673.2V689.6L533.6 683.5V668.8L534 665.5V700H534.3V665.5L534.7 668.8V689.6L535 679.2V667.1L535.4 665.5V683.5L535.7 700V662.8L536.1 668.8V683.5H536.4V670.8L536.8 664.1V683.5L537.1 700V662.8L537.5 665.5V700L537.9 683.5V662.8L538.2 665.5V689.6L538.6 683.5V668.8L538.9 662.8V689.6L539.3 675.9V667.1L539.6 670.8V683.5L540 689.6V670.8L540.3 662.8V689.6H540.7V660.5L541 662.8V679.2H541.4V662.8L541.7 657.5V675.9L542.1 683.5V659.4L542.5 662.8V679.2H542.8V664.1L543.2 661.6V673.2L543.5 668.8V659.4L543.9 656.7V673.2L544.2 670.8V655.9L544.6 654.4V667.1L544.9 668.8V658.5L545.3 657.5V673.2H545.6V658.5L546 653V664.1L546.3 670.8V651.8L546.7 655.9V670.8L547 667.1V652.4L547.4 655.1V658.5L547.8 665.5V656.7L548.1 651.8V662.8L548.5 660.5V650.6L548.8 651.2V660.5L549.2 665.5V648.5L549.5 649V659.4L549.9 657.5V650.6L550.2 648.1V660.5L550.6 657.5V649.5L550.9 650.1V657.5L551.3 655.1V648.5L551.6 649V656.7L552 657.5V648.1L552.4 644V656.7L552.7 655.1V646.7L553.1 644.4V651.8L553.4 653V646.3L553.8 643V651.8L554.1 650.6V640L554.5 642.6V650.1L554.8 649.5V641.7L555.2 638.7V646.3L555.5 645.5V640.2L555.9 640.8V648.5L556.2 646.7V637.5L556.6 638.2V642.6L557 643.6V637.5L557.3 635.9V643L557.7 642V635.3L558 634.7V639.7L558.4 639.4V632.1L558.7 630.1V636.8L559.1 635.3V630.7L559.4 629.6V634L559.8 632.7V628.5L560.1 627.1V631L560.5 627.5V624.6L560.8 622.4V626.2L561.2 624.8V621.1L561.5 620.2V623.3L561.9 620.8V617.7L562.3 616.6V620.3L562.6 617.5V614.1L563 611.7V615.4L563.3 612.7V610.6L563.7 608.4V611L564 608.8V605.6L564.4 604.5V606.1L564.7 604V602.3L565.1 600.3V601.7L565.4 599.9V598.4L565.8 597.5V598.6L566.1 596.4V595.3L566.5 593.8V595L566.9 594.5V593L567.2 592.8V593.4L567.6 592.8V591.9L567.9 591V592.1L568.3 592.6V591.9H568.6V593.1L569 593.6V592.4L569.3 593.3V594.4L569.7 595.5V593.8L570 595.8V597.5L570.4 598.9V597L570.7 598.7V599.7L571.1 601.3V599.6L571.4 601V603.2L571.8 605.3V603.2L572.2 604.3V607.9L572.5 610V608.3L572.9 610.6V612.6L573.2 614.3V612.7L573.6 614.4V617.1L573.9 619.3V616.2L574.3 617.8V622.4L574.6 624.3V622.4L575 622.5V629.2L575.3 631.5V624.3L575.7 628.4V633.1L576 634.2V630L576.4 632.2V635.3L576.8 640.8V632.7L577.1 634.9V639.7L577.5 642.3V634.2L577.8 638.7V642.3L578.2 644.7V639.2L578.5 637.9V644L578.9 646.3V643L579.2 641.4V650.6L579.6 649V642.6H579.9V650.1L580.3 655.1V647.2L580.6 645.5V654.4L581 655.9V648.1L581.3 649.5V664.1L581.7 660.5V650.6L582.1 651.2V660.5H582.4V651.2L582.8 650.6V662.8L583.1 664.1V655.9L583.5 657.5V668.8L583.8 664.1V655.9L584.2 653V665.5H584.5V654.4L584.9 655.9V665.5L585.2 670.8V657.5H585.6V675.9L585.9 664.1V656.7L586.3 655.9V668.8H586.7V656.7L587 660.5V668.8H587.4V660.5L587.7 657.5V673.2L588.1 675.9V664.1L588.4 658.5V675.9L588.8 673.2V662.8H589.1V679.2H589.5V664.1L589.8 667.1V679.2L590.2 689.6V664.1H590.5V689.6L590.9 683.5V661.6L591.2 665.5V683.5H591.6V667.1L592 664.1V689.6L592.3 683.5V668.8L592.7 664.1V683.5H593V665.5L593.4 662.8V683.5L593.7 679.2V667.1L594.1 668.8V683.5H594.4V664.1H594.8V689.6L595.1 683.5V665.5L595.5 668.8V679.2L595.8 683.5V670.8L596.2 668.8V700L596.6 679.2V667.1L596.9 670.8V689.6L597.3 683.5V668.8L597.6 667.1V689.6L598 700V667.1H598.3V689.6L598.7 679.2V668.8H599V689.6H599.4V667.1L599.7 665.5V689.6H600.1V668.8L600.4 667.1V700H600.8V664.1L601.2 667.1V700H601.5V675.9L601.9 670.8V689.6L602.2 700V668.8L602.6 673.2V700L602.9 689.6V670.8L603.3 675.9V700L603.6 689.6V673.2H604V700L604.3 689.6V673.2L604.7 668.8V700H605V673.2L605.4 679.2V700L605.7 689.6V673.2L606.1 668.8V689.6L606.5 700V675.9L606.8 668.8V689.6L607.2 683.5V670.8H607.5V689.6H607.9V665.5L608.2 670.8V700H608.6V675.9L608.9 673.2V700H609.3V670.8H609.6V700L610 689.6V675.9L610.3 670.8V700H610.7V670.8L611.1 673.2V683.5H611.4V668.8L611.8 670.8V683.5L612.1 700V670.8L612.5 668.8V689.6H612.8V668.8L613.2 673.2V689.6L613.5 700V670.8L613.9 673.2V700L614.2 689.6V665.5L614.6 673.2V689.6L614.9 700V670.8L615.3 673.2V700H615.6V670.8L616 673.2V700L616.4 689.6V670.8L616.7 673.2V700H617.1V670.8L617.4 673.2V700H617.8V670.8L618.1 665.5V700L618.5 683.5V668.8L618.8 675.9V700L619.2 689.6V673.2L619.5 675.9V689.6L619.9 700V668.8L620.2 670.8V689.6L620.6 700V670.8L621 675.9V689.6H621.3V670.8H621.7V700H622V670.8L622.4 673.2V689.6L622.7 700V670.8L623.1 673.2V700H623.4V673.2L623.8 675.9V689.6H624.1V673.2L624.5 668.8V700L624.8 689.6V670.8L625.2 675.9V700H625.5V670.8L625.9 675.9V700H626.3V675.9L626.6 679.2V689.6L627 700V675.9L627.3 670.8V700L627.7 683.5V670.8L628 673.2V700L628.4 683.5V670.8L628.7 665.5V700H629.1V673.2H629.4V700H629.8V673.2H630.1V700H630.5V673.2L630.9 670.8V683.5L631.2 689.6V670.8L631.6 675.9V700L631.9 689.6V673.2L632.3 670.8V689.6L632.6 700V668.8H633V700L633.3 689.6V673.2H633.7V700H634V668.8L634.4 670.8V689.6L634.7 700V673.2L635.1 670.8V683.5H635.4V670.8L635.8 668.8V689.6H636.2V670.8L636.5 673.2V683.5L636.9 700V668.8L637.2 660.5V689.6L637.6 700V675.9L637.9 668.8V700H638.3V670.8L638.6 673.2V689.6H639V670.8L639.3 675.9V700H639.7V675.9L640 664.1V700H640.4V668.8L640.8 667.1V689.6L641.1 700V670.8L641.5 667.1V683.5L641.8 689.6V667.1L642.2 668.8V700L642.5 679.2V668.8H642.9V700H643.2V665.5L643.6 667.1V689.6L643.9 679.2V662.8L644.3 667.1V689.6L644.6 683.5V667.1L645 668.8V679.2L645.4 700V665.5H645.7V683.5L646.1 689.6V667.1L646.4 665.5V683.5H646.8V667.1L647.1 664.1V683.5L647.5 689.6V667.1L647.8 661.6V689.6L648.2 679.2V665.5L648.5 659.4V675.9L648.9 679.2V662.8L649.2 668.8V679.2H649.6V667.1L649.9 665.5V679.2L650.3 689.6V660.5L650.7 664.1V679.2L651 675.9V660.5L651.4 662.8V675.9L651.7 673.2V658.5L652.1 659.4V675.9L652.4 679.2V664.1L652.8 661.6V689.6L653.1 679.2V659.4L653.5 657.5V668.8L653.8 675.9V657.5L654.2 660.5V670.8L654.5 683.5V657.5L654.9 658.5V673.2L655.3 679.2V657.5L655.6 653.7V667.1H656V657.5L656.3 655.1V675.9L656.7 673.2V655.9L657 655.1V668.8L657.4 670.8V657.5L657.7 659.4V668.8L658.1 667.1V652.4L658.4 653.7V667.1L658.8 668.8V653.7L659.1 652.4V667.1L659.5 665.5V651.2L659.8 652.4V662.8H660.2V649L660.6 653.7V662.8L660.9 664.1V653L661.3 653.7V660.5H661.6V651.8L662 650.6V656.7L662.3 658.5V649.5L662.7 650.6V660.5L663 652.4V646.7L663.4 646.3V653L663.7 657.5V646.7L664.1 645.1V653H664.4V643.6L664.8 644.4V651.8L665.2 652.4V645.9L665.5 642.3V649L665.9 650.6V639.2L666.2 640.2V645.9L666.6 644V641.4L666.9 636.1V645.9L667.3 642.6V639.2L667.6 634.5V639.7L668 640.5V634.9L668.3 633.6V637.7L668.7 636.3V632.4L669 630.9V638.2L669.4 634.2V627.3L669.7 625.7V631L670.1 629.4V624.6L670.5 623.2V627.3L670.8 623V619.5L671.2 615.5V618.8L671.5 614.3V612.7L671.9 609V611.6L672.2 607.7V605.9L672.6 602.8V604.6L672.9 598.9V597.6L673.3 590.1V591.1L673.6 583.3V582.6L674 575.5V576.3L674.3 568.4V567.9L674.7 560.2V560.5L675.1 551.8V551.5L675.4 542.7V543.1L675.8 535V534.9L676.1 527.8V527.9L676.5 520.8V520.7L676.8 526.5V526.6L677.2 533.7V533.5L677.5 541.2V541.4L677.9 550.2V549.8L678.2 558.6V559L678.6 566.9V566.3L678.9 573.4V574L679.3 581.3V580.3L679.6 587.7V588.9L680 596V594.6L680.4 600.7V602.6L680.7 607V604.5L681.1 607.3V609.5L681.4 613V610.3L681.8 614.1V617.5L682.1 620V616.2L682.5 620.8V625.5L682.8 626.7V623.4L683.2 627.1V630.6L683.5 631.3V627.8L683.9 628.5V635.5L684.2 636.6V631.6L684.6 632.4V636.1L685 640.5V634.2L685.3 637.2V642L685.7 643V636.1L686 640V645.1L686.4 646.7V640.5L686.7 645.1V650.6L687.1 651.8V645.1L687.4 646.3V655.1H687.8V648.1L688.1 649.5V658.5L688.5 659.4V648.5H688.8V662.8H689.2V653L689.6 655.1V667.1L689.9 665.5V653L690.3 654.4V675.9L690.6 668.8V655.1L691 659.4V673.2L691.3 675.9V659.4L691.7 658.5V683.5L692 675.9V661.6L692.4 659.4V679.2H692.7V660.5L693.1 661.6V683.5L693.4 679.2V662.8L693.8 667.1V700L694.1 679.2V664.1L694.5 667.1V679.2L694.9 689.6V665.5H695.2V689.6L695.6 683.5V668.8L695.9 664.1V689.6L696.3 683.5V662.8L696.6 668.8V700L697 683.5V667.1L697.3 661.6V679.2L697.7 689.6V670.8H698V683.5H698.4V667.1L698.7 665.5V689.6H699.1V670.8H699.5V700L699.8 689.6V675.9L700.2 665.5V689.6H700.5V667.1L700.9 670.8V700H701.2V673.2H701.6V700H701.9V670.8L702.3 668.8V700H702.6V670.8H703V700H703.3V679.2L703.7 668.8V689.6L704 700V675.9L704.4 665.5V700H704.8V679.2L705.1 673.2V700H705.5V670.8L705.8 673.2V700H706.2V675.9L706.5 670.8V700L706.9 689.6V679.2L707.2 673.2V700H707.6V673.2L707.9 664.1V700L708.3 689.6V673.2H708.6V689.6H709V675.9H709.4V689.6L709.7 700V675.9H710.1V700L710.4 689.6V668.8L710.8 673.2V700H711.1V668.8L711.5 673.2V700L711.8 689.6V679.2L712.2 670.8V700H712.5V675.9L712.9 679.2V700H713.2V675.9L713.6 673.2V700H713.9V673.2L714.3 679.2V700H714.7V675.9H715V683.5L715.4 700V668.8L715.7 667.1V700H716.1V675.9L716.4 670.8V700H716.8V679.2L717.1 675.9V700H717.5V675.9L717.8 679.2V700H718.2V675.9H718.5V700H718.9V673.2L719.3 683.5V700H719.6V679.2L720 675.9V700H720.3V679.2H720.7V700L721 689.6V679.2L721.4 673.2V700L721.7 689.6V679.2H722.1V700H722.4V683.5L722.8 679.2V700H723.1V683.5L723.5 675.9V700H723.8V673.2L724.2 679.2V700H724.6V675.9L724.9 683.5V689.6L725.3 700V679.2L725.6 675.9V700H726V679.2L726.3 675.9V700H726.7V679.2H727V700H727.4V679.2L727.7 689.6V700H728.1V679.2H728.4V700H728.8V683.5L729.2 679.2V700H729.5V679.2H729.9V689.6L730.2 700V675.9L730.6 679.2V700H730.9V679.2L731.3 683.5V700H731.6V675.9L732 679.2V700H732.3V683.5H732.7V700H733V679.2L733.4 689.6V700H733.8V683.5L734.1 675.9V700H734.5V683.5H734.8V700H735.2V689.6L735.5 683.5V700H735.9V689.6H736.2V700H736.6V679.2L736.9 683.5V700H737.3V683.5H737.6V700H738V679.2L738.3 675.9V700L738.7 689.6H739.1V700H739.4V683.5L739.8 689.6V700H740.1V683.5L740.5 700H740.8V683.5L741.2 689.6V700H741.5V675.9L741.9 689.6V700H742.2V683.5L742.6 689.6V700H742.9V689.6L743.3 683.5V700H743.7V689.6L744 683.5V700H744.4V689.6H744.7V700H745.1V689.6H745.4V700H745.8V689.6L746.1 683.5V700H746.5V689.6H746.8V700H747.2V689.6H747.5V700H747.9V689.6L748.2 683.5V700H748.6V689.6H749V700H749.3V683.5H749.7V700L750 689.6V683.5H750.4V700H750.7V689.6H751.1V700H751.4V689.6H751.8V700H752.1L752.5 689.6V700H752.8V683.5L753.2 689.6V700H753.6V679.2L753.9 689.6V700H754.3V689.6H754.6V700H755V689.6H755.3V700H755.7L756 683.5V700H756.4V689.6H756.7V700H757.1L757.4 689.6V700H757.8V689.6H758.1V700H758.5V683.5H758.9V700H759.2V689.6H759.6V700H759.9V683.5L760.3 689.6V700H760.6V683.5L761 700H761.3L761.7 689.6V700M766.6 689.6V700H767V689.6H767.3V700M768.4 700.5V689.6M769.1 689.6V700H769.5V689.6H769.8V700H770.2M770.9 689.6V700H771.2M771.9 689.6V700H772.3V689.6H772.6V700H773V689.6L773.4 683.5V700M775.1 689.6V700H775.5V683.5M777.2 689.6V700H777.6V683.5M779.7 700.5V689.6M781.5 700.5V683.5M783.3 700.5V689.6M784.3 700.5V683.5M785.7 700.5V689.6M786.4 700.5V689.6M788.2 689.6V700H788.6L788.9 683.5V700M790.3 700.5V683.5M791.4 683.5V700H791.7V689.6M797.8 700H798.1V683.5M802 700.5V689.6M803.8 689.6V700H804.1M805.5 700.5V689.6M806.9 689.6V700H807.3V689.6M808.4 700.5V689.6M885.4 700.5V689.6M886.9 689.6V700H887.2V689.6H887.6V700M888.3 700.5V689.6"/>
<path class="d" d="M110.7 700h1.5M134.4 700h1.5M193.4 700h1.5M208.6 700h1.5M215.3 700h1.5M216.7 700h1.5M222 700h1.5M231.9 700h1.5M238 700h1.5M245 700h1.5M246.4 700h1.5M254.9 700h1.5M260.6 700h1.5M274.7 700h1.5M279 700h1.5M280 700h1.5M280.7 700h1.5M283.6 700h1.5M286.4 700h1.5M289.2 700h1.5M291.9 700h1.5M293.7 700h1.5M296 700h1.5M297 700h1.5M299.5 700h1.5M302.7 700h1.5M307.6 700h1.5M310.4 700h1.5M311.5 700h1.5M315 700h1.5M316.1 700h1.5M323.2 700h1.5M327.8 700h1.5M338.4 700h1.5M339.4 700h1.5M342.6 700h1.5M344.4 700h1.5M347.9 700h1.5M348.6 700h1.5M355 700h1.5M372.3 700h1.5M392.1 700h1.5M396.4 700h1.5M404.5 700h1.5M409.8 700h1.5M418.5 700h1.5M419.4 700h1.5M426.4 700h1.5M433.9 700h1.5M442 700h1.5M444.5 700h1.5M449.8 700h1.5M450.8 700h1.5M459.3 700h1.5M460.4 700h1.5M462.1 700h1.5M473.1 700h1.5M478.1 700h1.5M479.8 700h1.5M509.9 700h1.5M761.8 700h1.5M762.7 700h1.5M765 700h1.5M773.7 700h1.5M777.9 700h1.5M779.7 700h1.5M781.6 700h1.5M795.1 700h1.5M799.5 700h1.5M808.7 700h1.5M810.8 700h1.5M818.9 700h1.5M835.2 700h1.5M843.7 700h1.5M849.3 700h1.5M852.9 700h1.5M859.6 700h1.5M865.2 700h1.5M867.7 700h1.5M873.4 700h1.5M880.5 700h1.5M881.2 700h1.5M882.9 700h1.5M883.6 700h1.5M894.6 700h1.5M895.7 700h1.5M902.4 700h1.5M909.1 700h1.5M913.2 700h1.5M919.3 700h1.5M920.8 700h1.5M926.4 700h1.5M929.6 700h1.5M942.7 700h1.5M956.5 700h1.5M966.4 700h1.5"/>
</g>
<g id="frame">
<line class="f" stroke-width="3.1" x1="92.9" y1="1.7999999999999998" x2="92.9" y2="719.15"/>
<line class="f" stroke-width="3.0" x1="976.6" y1="1.7999999999999998" x2="976.6" y2="719.15"/>
<line class="f" stroke-width="2.3" x1="91.4" y1="2.9" x2="978.1" y2="2.9"/>
<line class="f" stroke-width="2.7" x1="91.4" y1="717.8" x2="978.1" y2="717.8"/>
<line class="t" x1="181.0" y1="717.2" x2="181.0" y2="711.4"/>
<line class="t" x1="181.0" y1="3.4" x2="181.0" y2="6.9"/>
<line class="t" x1="269.4" y1="717.2" x2="269.4" y2="704.6"/>
<line class="t" x1="269.4" y1="3.4" x2="269.4" y2="13.8"/>
<line class="t" x1="357.8" y1="717.2" x2="357.8" y2="711.4"/>
<line class="t" x1="357.8" y1="3.4" x2="357.8" y2="6.9"/>
<line class="t" x1="446.2" y1="717.2" x2="446.2" y2="704.6"/>
<line class="t" x1="446.2" y1="3.4" x2="446.2" y2="13.8"/>
<line class="t" x1="534.6" y1="717.2" x2="534.6" y2="711.4"/>
<line class="t" x1="534.6" y1="3.4" x2="534.6" y2="6.9"/>
<line class="t" x1="623.0" y1="717.2" x2="623.0" y2="704.6"/>
<line class="t" x1="623.0" y1="3.4" x2="623.0" y2="13.8"/>
<line class="t" x1="711.4" y1="717.2" x2="711.4" y2="711.4"/>
<line class="t" x1="711.4" y1="3.4" x2="711.4" y2="6.9"/>
<line class="t" x1="799.8" y1="717.2" x2="799.8" y2="704.6"/>
<line class="t" x1="799.8" y1="3.4" x2="799.8" y2="13.8"/>
<line class="t" x1="888.2" y1="717.2" x2="888.2" y2="711.4"/>
<line class="t" x1="888.2" y1="3.4" x2="888.2" y2="6.9"/>
</g>
<g id="text">
<text id="t30" x="70.27" y="765.4" font-size="43.0" textLength="43.71" lengthAdjust="spacingAndGlyphs">30</text>
<text id="t35" x="247.36" y="765.4" font-size="43.0" textLength="44.04" lengthAdjust="spacingAndGlyphs">35</text>
<text id="t40" x="423.17" y="765.4" font-size="43.0" textLength="45.04" lengthAdjust="spacingAndGlyphs">40</text>
<text id="t45" x="600.16" y="765.4" font-size="43.0" textLength="45.50" lengthAdjust="spacingAndGlyphs">45</text>
<text id="t50" x="777.77" y="765.4" font-size="43.0" textLength="43.81" lengthAdjust="spacingAndGlyphs">50</text>
<text id="t55" x="954.24" y="765.4" font-size="43.0" textLength="44.90" lengthAdjust="spacingAndGlyphs">55</text>
<text id="xlabel" x="435.92" y="839.3" font-size="44.6" textLength="197.57" lengthAdjust="spacingAndGlyphs">2Theta (°)</text>
<text id="l111" x="309.63" y="83.8" font-size="39.2" textLength="87.91" lengthAdjust="spacingAndGlyphs">(111)</text>
<text id="l002" x="535.45" y="84.8" font-size="39.2" textLength="86.97" lengthAdjust="spacingAndGlyphs">(002)</text>
<text id="l006s" x="460.89" y="149.2" font-size="39.2" textLength="99.63" lengthAdjust="spacingAndGlyphs">(006)*</text>
<text id="l002m" x="506.27" y="320.4" font-size="39.2" textLength="100.66" lengthAdjust="spacingAndGlyphs">(002)*</text>
<text id="l002t" x="632.48" y="572.2" font-size="39.2" textLength="99.84" lengthAdjust="spacingAndGlyphs">(002)*</text>
<text id="lsap" x="780.44" y="146.7" font-size="39.2" textLength="148.05" lengthAdjust="spacingAndGlyphs">Sapphire</text>
<text id="lmgo" x="814.56" y="381.2" font-size="39.2" textLength="81.58" lengthAdjust="spacingAndGlyphs">MgO</text>
<text id="lsto" x="816.43" y="608.0" font-size="39.2" textLength="77.00" lengthAdjust="spacingAndGlyphs">STO</text>
<text id="ylabel" transform="translate(35.1 562.35) rotate(-90)" font-size="44.1" textLength="454.03" lengthAdjust="spacingAndGlyphs">Intensity (au, log scale)</text>
</g>
</svg></body></html>
